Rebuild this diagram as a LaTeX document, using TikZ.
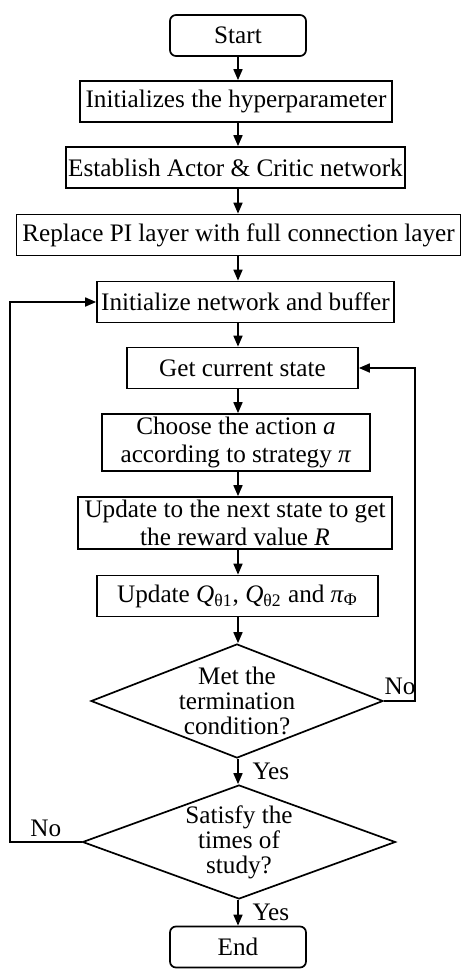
\documentclass[tikz,border=0pt]{standalone}
\usepackage{fontspec}
\setmainfont{Liberation Serif}
\usetikzlibrary{arrows.meta, shapes.geometric}

\begin{document}
\begin{tikzpicture}[x=0.5pt, y=-0.5pt, line width=0.85pt,
    every node/.style={font=\fontsize{12.6}{14}\selectfont},
    proc/.style={draw, rectangle, inner sep=1pt, minimum height=20.5pt, align=center},
    term/.style={proc, rounded corners=3pt, minimum width=68pt},
    decision/.style={draw, diamond, inner sep=0pt, minimum width=#1, minimum height=57pt},
    qtext/.style={align=center, font=\fontsize{12.6}{12.5}\selectfont},
    flow/.style={-{Triangle[length=5.5pt, width=4.5pt]}}]
    \useasboundingbox (0,0) rectangle (474,980);

    % --- Main column ---
    \node[term] (start) at (238,35.5) {Start};
    \node[proc, minimum width=156pt] (hyper) at (236,101.5) {Initializes the hyperparameter};
    \node[proc, minimum width=169.5pt] (actor) at (235.5,167.5) {Establish Actor \& Critic network};
    \node[proc, minimum width=222pt] (replace) at (238.5,235) {Replace PI layer with full connection layer};
    \node[proc, minimum width=148.5pt] (initnet) at (245.5,302) {Initialize network and buffer};
    \node[proc, minimum width=115.5pt] (state) at (242.5,368) {Get current state};
    \node[proc, minimum width=134pt, minimum height=28.5pt] (action) at (236,442.5)
      {Choose the action \textit{a}\\according to strategy \textit{π}};
    \node[proc, minimum width=157pt, minimum height=26pt] (reward) at (235,523)
      {Update to the next state to get\\the reward value \textit{R}};
    \node[proc, minimum width=140.5pt] (update) at (237.5,596)
      {Update \textit{Q}\textsubscript{θ1}, \textit{Q}\textsubscript{θ2} and \textit{π}\textsubscript{Φ}};

    % --- Decisions ---
    \node[decision=146pt, label={[qtext]center:Met the\\termination\\condition?}] (done) at (237,701) {};
    \node[decision=156.5pt, label={[qtext]center:Satisfy the\\times of\\study?}] (times) at (239,842) {};
    \node[term] (end) at (238,947) {End};

    % --- Straight arrows down the axis ---
    \coordinate (axis) at (238,0);
    \foreach \a/\b in {start/hyper, hyper/actor, actor/replace, replace/initnet,
                       initnet/state, state/action, action/reward, reward/update, update/done} {
      \draw[flow] (\a.south -| axis) -- (\b.north -| axis);
    }
    \draw[flow] (done.south -| axis) -- (times.north -| axis) node[midway, right=3.5pt] {Yes};
    \draw[flow] (times.south -| axis) -- (end.north -| axis) node[midway, right=3.5pt] {Yes};

    % --- Loops back ---
    \coordinate (rloop) at (415,0);
    \coordinate (lloop) at (10,0);
    \draw[flow] (done.east) -- (done.east -| rloop)
      node[pos=0, anchor=south west, inner xsep=0pt, inner ysep=2.5pt] {No} |- (state.east);
    \draw[flow] (times.west) -- (times.west -| lloop) node[midway, above, inner sep=2pt] {No}
      |- (initnet.west);
\end{tikzpicture}
\end{document}
